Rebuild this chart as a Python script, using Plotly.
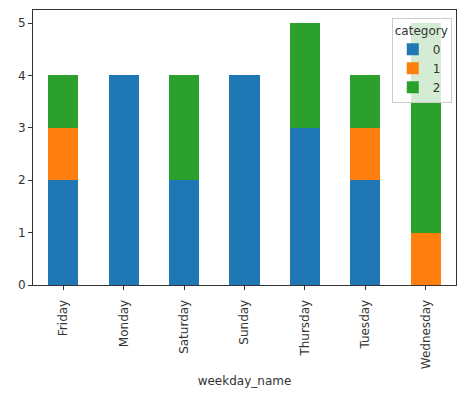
import plotly.graph_objects as go

days = ["Friday", "Monday", "Saturday", "Sunday", "Thursday", "Tuesday", "Wednesday"]
cat0 = [2, 4, 2, 4, 3, 2, 0]
cat1 = [1, 0, 0, 0, 0, 1, 1]
cat2 = [1, 0, 2, 0, 2, 1, 4]
series = [("0", cat0, "#1f77b4"), ("1", cat1, "#ff7f0e"), ("2", cat2, "#2ca02c")]

fig = go.Figure()
for name, vals, col in series:
    fig.add_trace(go.Bar(x=days, y=vals, name=name, marker=dict(color=col, line=dict(width=0)), width=0.5))

font = dict(family="DejaVu Sans", size=12, color="#333333")
fig.update_layout(
    barmode="stack",
    width=474, height=401,
    margin=dict(l=33, r=18, t=10, b=116),
    plot_bgcolor="white", paper_bgcolor="white",
    font=font,
    showlegend=True,
    legend=dict(
        title=dict(text="category", side="top", font=dict(family="DejaVu Sans", size=12, color="#333333")),
        traceorder="normal",
        x=0.99, y=0.97, xanchor="right", yanchor="top",
        bgcolor="rgba(255,255,255,0.8)", bordercolor="#cccccc", borderwidth=1,
        font=dict(family="DejaVu Sans", size=12, color="#333333"),
        itemwidth=30,
    ),
    bargap=0.5,
)
fig.update_xaxes(
    range=[-0.5, 6.5], tickangle=-90, showline=True, linecolor="#333333", linewidth=1, mirror=True,
    ticks="outside", ticklen=4, tickcolor="#333333", showgrid=False, ticklabelstandoff=5,
    title=dict(text="weekday_name", font=font, standoff=8),
)
fig.update_yaxes(
    range=[0, 5.25], tickvals=[0, 1, 2, 3, 4, 5], showline=True, linecolor="#333333", linewidth=1, mirror=True,
    ticks="outside", ticklen=4, tickcolor="#333333", showgrid=False, zeroline=False,
)
fig.write_html("out.html")
